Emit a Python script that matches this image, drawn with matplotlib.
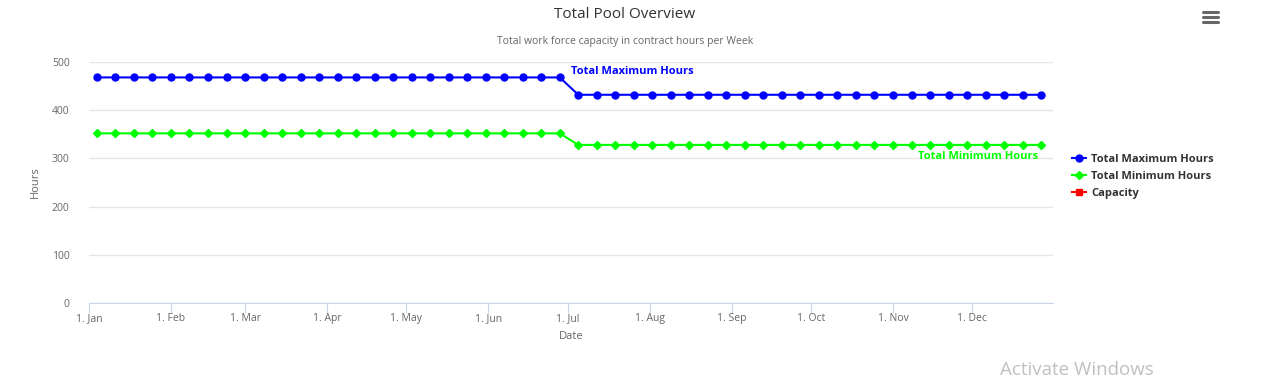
import matplotlib
matplotlib.use("Agg")
import matplotlib.pyplot as plt
import matplotlib.dates as mdates
from matplotlib.lines import Line2D
import pandas as pd

plt.rcParams['font.family'] = ['Open Sans', 'DejaVu Sans']

# ---- data ----
weeks = pd.date_range("2021-01-04", periods=52, freq="7D")
max_hours = [468] * 26 + [432] * 26
min_hours = [352] * 26 + [328] * 26
capacity = []
month_ticks = pd.date_range("2021-01-01", periods=12, freq="MS")
month_labels = ["1. Jan", "1. Feb", "1. Mar", "1. Apr", "1. May", "1. Jun",
                "1. Jul", "1. Aug", "1. Sep", "1. Oct", "1. Nov", "1. Dec"]
y_ticks = [0, 100, 200, 300, 400, 500]

W, H = 1266, 387
fig = plt.figure(figsize=(W / 100, H / 100), dpi=100)
ax = fig.add_axes([89 / W, (H - 303) / H, (1053 - 89) / W, (303 - 62) / H])

ax.plot(weeks, max_hours, color="#0000ff", lw=1.5, marker="o", ms=5.0,
        label="Total Maximum Hours", zorder=3)
ax.plot(weeks, min_hours, color="#00ff00", lw=1.5, marker="D", ms=3.8,
        label="Total Minimum Hours", zorder=3)
ax.plot([], [], color="#ff0000", lw=1.5, marker="s", ms=4.5, label="Capacity")

ax.set_xlim(pd.Timestamp("2021-01-01"), pd.Timestamp("2021-12-31 12:00"))
ax.set_ylim(0, 500)
ax.set_yticks(y_ticks)
ax.set_yticklabels([str(v) for v in y_ticks])
ax.set_xticks(month_ticks)
ax.set_xticklabels(month_labels)

ax.grid(axis="y", color="#e6e6e6", lw=1)
ax.set_axisbelow(True)
for s in ["top", "right", "left"]:
    ax.spines[s].set_visible(False)
ax.spines["bottom"].set_color("#ccd6eb")
ax.tick_params(axis="y", length=0, labelsize=7.5, labelcolor="#666666", pad=14)
ax.tick_params(axis="x", length=7, color="#ccd6eb", labelsize=7.5,
               labelcolor="#666666", pad=0)

ax.set_ylabel("Hours", fontsize=8, color="#666666", labelpad=8)
ax.set_xlabel("Date", fontsize=8, color="#666666", labelpad=5)

# data labels
ax.annotate("Total Maximum Hours", (weeks[26], max_hours[26]), xytext=(-5, 17),
            textcoords="offset points", color="#0000ff", fontsize=8,
            fontweight="bold", ha="left", va="center")
ax.annotate("Total Minimum Hours", (weeks[-1], min_hours[-1]), xytext=(-2, -8),
            textcoords="offset points", color="#00ff00", fontsize=8,
            fontweight="bold", ha="right", va="center")

fig.text(625 / W, 1 - 15 / H, "Total Pool Overview", ha="center", va="center",
         fontsize=11, color="#333333")
fig.text(625 / W, 1 - 41.5 / H, "Total work force capacity in contract hours per Week",
         ha="center", va="center", fontsize=7.5, color="#666666")

leg = ax.legend(loc="upper left", bbox_to_anchor=(1062 / W, 1 - 144 / H),
                bbox_transform=fig.transFigure, frameon=False, fontsize=8,
                handlelength=1.3, handletextpad=0.4, labelspacing=0.55,
                prop={"weight": "bold", "size": 8})
for t in leg.get_texts():
    t.set_color("#333333")

# menu icon
for yy in (12, 17, 22):
    fig.add_artist(Line2D([1203 / W, 1218 / W], [1 - yy / H, 1 - yy / H],
                          color="#666666", lw=2.2, solid_capstyle="round"))

fig.text(1000 / W, 1 - 370 / H, "Activate Windows", ha="left", va="center",
         fontsize=13.5, color="#c0c0c0")

fig.savefig("out.png", dpi=100)
